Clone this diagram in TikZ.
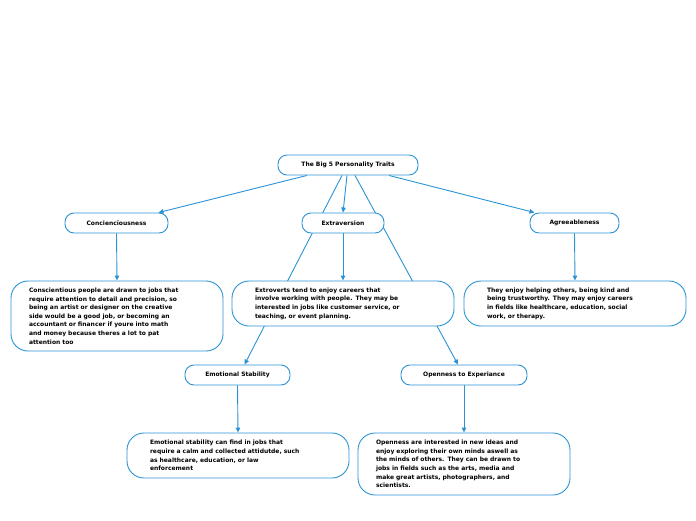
\documentclass[tikz,border=0pt]{standalone}
\usepackage{fontspec}
\setmainfont{DejaVu Sans}
\usetikzlibrary{backgrounds,arrows.meta}
\definecolor{bl}{HTML}{2A93D5}
\begin{document}
\begin{tikzpicture}[x=1pt,y=-1pt,
  base/.style={draw=bl,line width=0.9pt,fill=white,font=\bfseries\fontsize{6}{8.6}\selectfont,inner sep=0pt},
  small/.style={base,rounded corners=9pt,minimum height=20pt},
  big/.style={base,rounded corners=17pt,align=left,anchor=center},
  con/.style={draw=bl,line width=0.9pt},
  arr/.style={con,-{Triangle[length=5pt,width=4.5pt]}}]
\useasboundingbox (0,0) rectangle (696,520);
\node[small,minimum width=140pt] (root) at (348,165) {The Big 5 Personality Traits};
\node[small,minimum width=103pt] (c) at (116.5,223) {Conciencïousness};
\node[small,minimum width=82pt] (e) at (343,223) {Extraversion};
\node[small,minimum width=89pt] (a) at (574.5,223) {Agreeableness};
\node[small,minimum width=105pt] (es) at (237.5,375) {Emotional Stability};
\node[small,minimum width=126pt] (o) at (464,375) {Openness to Experiance};
\node[big,minimum width=212pt,minimum height=70pt,text width=176pt] (ct) at (117,316) {Conscientious people are drawn to jobs that\\require attention to detail and precision, so\\being an artist or designer on the creative\\side would be a good job, or becoming an\\accountant or financer if youre into math\\and money because theres a lot to pat\\attention too};
\node[big,minimum width=222pt,minimum height=45pt,text width=176pt] (et) at (343,303.5) {Extroverts tend to enjoy careers that\\involve working with people. They may be\\interested in jobs like customer service, or\\teaching, or event planning.};
\node[big,minimum width=222pt,minimum height=45pt,text width=176pt] (at) at (575,303.5) {They enjoy helping others, being kind and\\being trustworthy. They may enjoy careers\\in fields like healthcare, education, social\\work, or therapy.};
\node[big,minimum width=222pt,minimum height=45pt,text width=176pt] (est) at (238,455.5) {Emotional stability can find in jobs that\\require a calm and collected attidutde, such\\as healthcare, education, or law\\enforcement};
\node[big,minimum width=212pt,minimum height=62pt,text width=176pt] (ot) at (464,464) {Openness are interested in new ideas and\\enjoy exploring their own minds aswell as\\the minds of others. They can be drawn to\\jobs in fields such as the arts, media and\\make great artists, photographers, and\\scientists.};
\begin{scope}[on background layer]
\draw[arr] ([xshift=-41pt]root.south) -- ([xshift=42pt]c.north);
\draw[arr] ([xshift=41pt]root.south) -- ([xshift=-40pt]a.north);
\draw[arr] ([xshift=-1pt]root.south) -- (e.north);
\draw[arr] ([xshift=-6pt]root.south) -- ([xshift=7pt]es.north);
\draw[arr] ([xshift=7pt]root.south) -- ([xshift=-6pt]o.north);
\end{scope}
\draw[arr] (c.south) -- (ct.north);
\draw[arr] (e.south) -- (et.north);
\draw[arr] (a.south) -- (at.north);
\draw[arr] (es.south) -- (est.north);
\draw[arr] (o.south) -- (ot.north);
\end{tikzpicture}
\end{document}
